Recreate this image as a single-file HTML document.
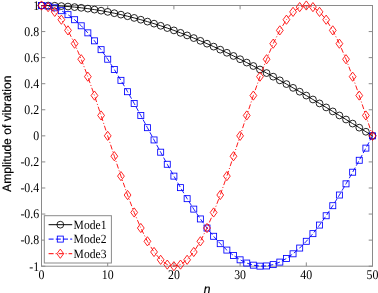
<!DOCTYPE html>
<html><head><meta charset="utf-8"><title>Mode shapes</title>
<style>
html,body{margin:0;padding:0;background:#fff;}
body{width:378px;height:293px;overflow:hidden;}
svg{display:block;}
text{font-family:"Liberation Serif",serif;font-size:13.2px;text-rendering:geometricPrecision;fill:#000;}
.sans{font-family:"Liberation Sans",sans-serif;font-size:12.1px;stroke:#000;stroke-width:0.2px;}
</style></head><body>
<svg width="378" height="293" viewBox="0 0 378 293">
<rect x="0" y="0" width="378" height="293" fill="#fff"/>

<rect x="41.5" y="5.5" width="331.0" height="260.7" fill="none" stroke="#8a8a8a" stroke-width="1"/>
<line x1="41.50" y1="266.2" x2="41.50" y2="262.4" stroke="#8a8a8a"/>
<line x1="41.50" y1="5.5" x2="41.50" y2="9.3" stroke="#8a8a8a"/>
<text transform="translate(41.50,279.4) scale(0.9,1)" text-anchor="middle">0</text>
<line x1="107.70" y1="266.2" x2="107.70" y2="262.4" stroke="#8a8a8a"/>
<line x1="107.70" y1="5.5" x2="107.70" y2="9.3" stroke="#8a8a8a"/>
<text transform="translate(107.70,279.4) scale(0.9,1)" text-anchor="middle">10</text>
<line x1="173.90" y1="266.2" x2="173.90" y2="262.4" stroke="#8a8a8a"/>
<line x1="173.90" y1="5.5" x2="173.90" y2="9.3" stroke="#8a8a8a"/>
<text transform="translate(173.90,279.4) scale(0.9,1)" text-anchor="middle">20</text>
<line x1="240.10" y1="266.2" x2="240.10" y2="262.4" stroke="#8a8a8a"/>
<line x1="240.10" y1="5.5" x2="240.10" y2="9.3" stroke="#8a8a8a"/>
<text transform="translate(240.10,279.4) scale(0.9,1)" text-anchor="middle">30</text>
<line x1="306.30" y1="266.2" x2="306.30" y2="262.4" stroke="#8a8a8a"/>
<line x1="306.30" y1="5.5" x2="306.30" y2="9.3" stroke="#8a8a8a"/>
<text transform="translate(306.30,279.4) scale(0.9,1)" text-anchor="middle">40</text>
<line x1="372.50" y1="266.2" x2="372.50" y2="262.4" stroke="#8a8a8a"/>
<line x1="372.50" y1="5.5" x2="372.50" y2="9.3" stroke="#8a8a8a"/>
<text transform="translate(372.50,279.4) scale(0.9,1)" text-anchor="middle">50</text>
<line x1="41.5" y1="5.50" x2="45.3" y2="5.50" stroke="#8a8a8a"/>
<line x1="372.5" y1="5.50" x2="368.7" y2="5.50" stroke="#8a8a8a"/>
<text transform="translate(39.2,9.80) scale(0.9,1)" text-anchor="end">1</text>
<line x1="41.5" y1="31.57" x2="45.3" y2="31.57" stroke="#8a8a8a"/>
<line x1="372.5" y1="31.57" x2="368.7" y2="31.57" stroke="#8a8a8a"/>
<text transform="translate(39.2,35.87) scale(0.9,1)" text-anchor="end">0.8</text>
<line x1="41.5" y1="57.64" x2="45.3" y2="57.64" stroke="#8a8a8a"/>
<line x1="372.5" y1="57.64" x2="368.7" y2="57.64" stroke="#8a8a8a"/>
<text transform="translate(39.2,61.94) scale(0.9,1)" text-anchor="end">0.6</text>
<line x1="41.5" y1="83.71" x2="45.3" y2="83.71" stroke="#8a8a8a"/>
<line x1="372.5" y1="83.71" x2="368.7" y2="83.71" stroke="#8a8a8a"/>
<text transform="translate(39.2,88.01) scale(0.9,1)" text-anchor="end">0.4</text>
<line x1="41.5" y1="109.78" x2="45.3" y2="109.78" stroke="#8a8a8a"/>
<line x1="372.5" y1="109.78" x2="368.7" y2="109.78" stroke="#8a8a8a"/>
<text transform="translate(39.2,114.08) scale(0.9,1)" text-anchor="end">0.2</text>
<line x1="41.5" y1="135.85" x2="45.3" y2="135.85" stroke="#8a8a8a"/>
<line x1="372.5" y1="135.85" x2="368.7" y2="135.85" stroke="#8a8a8a"/>
<text transform="translate(39.2,140.15) scale(0.9,1)" text-anchor="end">0</text>
<line x1="41.5" y1="161.92" x2="45.3" y2="161.92" stroke="#8a8a8a"/>
<line x1="372.5" y1="161.92" x2="368.7" y2="161.92" stroke="#8a8a8a"/>
<text transform="translate(39.2,166.22) scale(0.9,1)" text-anchor="end">-0.2</text>
<line x1="41.5" y1="187.99" x2="45.3" y2="187.99" stroke="#8a8a8a"/>
<line x1="372.5" y1="187.99" x2="368.7" y2="187.99" stroke="#8a8a8a"/>
<text transform="translate(39.2,192.29) scale(0.9,1)" text-anchor="end">-0.4</text>
<line x1="41.5" y1="214.06" x2="45.3" y2="214.06" stroke="#8a8a8a"/>
<line x1="372.5" y1="214.06" x2="368.7" y2="214.06" stroke="#8a8a8a"/>
<text transform="translate(39.2,218.36) scale(0.9,1)" text-anchor="end">-0.6</text>
<line x1="41.5" y1="240.13" x2="45.3" y2="240.13" stroke="#8a8a8a"/>
<line x1="372.5" y1="240.13" x2="368.7" y2="240.13" stroke="#8a8a8a"/>
<text transform="translate(39.2,244.43) scale(0.9,1)" text-anchor="end">-0.8</text>
<line x1="41.5" y1="266.20" x2="45.3" y2="266.20" stroke="#8a8a8a"/>
<line x1="372.5" y1="266.20" x2="368.7" y2="266.20" stroke="#8a8a8a"/>
<text transform="translate(39.2,270.50) scale(0.9,1)" text-anchor="end">-1</text>
<text class="sans" transform="translate(10.5,133.8) rotate(-90)" text-anchor="middle">Amplitude of vibration</text>
<text class="sans" x="207.0" y="292.7" text-anchor="middle" font-style="italic">n</text>
<path d="M41.50,5.50 L48.12,5.56 L54.74,5.76 L61.36,6.08 L67.98,6.53 L74.60,7.10 L81.22,7.81 L87.84,8.64 L94.46,9.60 L101.08,10.68 L107.70,11.88 L114.32,13.21 L120.94,14.65 L127.56,16.22 L134.18,17.91 L140.80,19.71 L147.42,21.62 L154.04,23.65 L160.66,25.79 L167.28,28.04 L173.90,30.39 L180.52,32.85 L187.14,35.41 L193.76,38.07 L200.38,40.83 L207.00,43.68 L213.62,46.62 L220.24,49.65 L226.86,52.76 L233.48,55.96 L240.10,59.23 L246.72,62.58 L253.34,66.00 L259.96,69.50 L266.58,73.05 L273.20,76.67 L279.82,80.35 L286.44,84.08 L293.06,87.86 L299.68,91.70 L306.30,95.57 L312.92,99.48 L319.54,103.43 L326.16,107.42 L332.78,111.42 L339.40,115.46 L346.02,119.51 L352.64,123.58 L359.26,127.67 L365.88,131.76 L372.50,135.85" fill="none" stroke="#000" stroke-width="0.9"/>
<g fill="none" stroke-width="0.85"><circle cx="41.50" cy="5.50" r="3.4" stroke="#000"/><circle cx="48.12" cy="5.56" r="3.4" stroke="#000"/><circle cx="54.74" cy="5.76" r="3.4" stroke="#000"/><circle cx="61.36" cy="6.08" r="3.4" stroke="#000"/><circle cx="67.98" cy="6.53" r="3.4" stroke="#000"/><circle cx="74.60" cy="7.10" r="3.4" stroke="#000"/><circle cx="81.22" cy="7.81" r="3.4" stroke="#000"/><circle cx="87.84" cy="8.64" r="3.4" stroke="#000"/><circle cx="94.46" cy="9.60" r="3.4" stroke="#000"/><circle cx="101.08" cy="10.68" r="3.4" stroke="#000"/><circle cx="107.70" cy="11.88" r="3.4" stroke="#000"/><circle cx="114.32" cy="13.21" r="3.4" stroke="#000"/><circle cx="120.94" cy="14.65" r="3.4" stroke="#000"/><circle cx="127.56" cy="16.22" r="3.4" stroke="#000"/><circle cx="134.18" cy="17.91" r="3.4" stroke="#000"/><circle cx="140.80" cy="19.71" r="3.4" stroke="#000"/><circle cx="147.42" cy="21.62" r="3.4" stroke="#000"/><circle cx="154.04" cy="23.65" r="3.4" stroke="#000"/><circle cx="160.66" cy="25.79" r="3.4" stroke="#000"/><circle cx="167.28" cy="28.04" r="3.4" stroke="#000"/><circle cx="173.90" cy="30.39" r="3.4" stroke="#000"/><circle cx="180.52" cy="32.85" r="3.4" stroke="#000"/><circle cx="187.14" cy="35.41" r="3.4" stroke="#000"/><circle cx="193.76" cy="38.07" r="3.4" stroke="#000"/><circle cx="200.38" cy="40.83" r="3.4" stroke="#000"/><circle cx="207.00" cy="43.68" r="3.4" stroke="#000"/><circle cx="213.62" cy="46.62" r="3.4" stroke="#000"/><circle cx="220.24" cy="49.65" r="3.4" stroke="#000"/><circle cx="226.86" cy="52.76" r="3.4" stroke="#000"/><circle cx="233.48" cy="55.96" r="3.4" stroke="#000"/><circle cx="240.10" cy="59.23" r="3.4" stroke="#000"/><circle cx="246.72" cy="62.58" r="3.4" stroke="#000"/><circle cx="253.34" cy="66.00" r="3.4" stroke="#000"/><circle cx="259.96" cy="69.50" r="3.4" stroke="#000"/><circle cx="266.58" cy="73.05" r="3.4" stroke="#000"/><circle cx="273.20" cy="76.67" r="3.4" stroke="#000"/><circle cx="279.82" cy="80.35" r="3.4" stroke="#000"/><circle cx="286.44" cy="84.08" r="3.4" stroke="#000"/><circle cx="293.06" cy="87.86" r="3.4" stroke="#000"/><circle cx="299.68" cy="91.70" r="3.4" stroke="#000"/><circle cx="306.30" cy="95.57" r="3.4" stroke="#000"/><circle cx="312.92" cy="99.48" r="3.4" stroke="#000"/><circle cx="319.54" cy="103.43" r="3.4" stroke="#000"/><circle cx="326.16" cy="107.42" r="3.4" stroke="#000"/><circle cx="332.78" cy="111.42" r="3.4" stroke="#000"/><circle cx="339.40" cy="115.46" r="3.4" stroke="#000"/><circle cx="346.02" cy="119.51" r="3.4" stroke="#000"/><circle cx="352.64" cy="123.58" r="3.4" stroke="#000"/><circle cx="359.26" cy="127.67" r="3.4" stroke="#000"/><circle cx="365.88" cy="131.76" r="3.4" stroke="#000"/><circle cx="372.50" cy="135.85" r="3.4" stroke="#000"/></g>
<path d="M41.50,5.50 L48.12,6.08 L54.74,7.81 L61.36,10.68 L67.98,14.65 L74.60,19.71 L81.22,25.79 L87.84,32.85 L94.46,40.83 L101.08,49.65 L107.70,59.23 L114.32,69.50 L120.94,80.35 L127.56,91.70 L134.18,103.43 L140.80,115.46 L147.42,127.67 L154.04,139.94 L160.66,152.19 L167.28,164.28 L173.90,176.13 L180.52,187.62 L187.14,198.65 L193.76,209.12 L200.38,218.94 L207.00,228.02 L213.62,236.29 L220.24,243.66 L226.86,250.08 L233.48,255.48 L240.10,259.82 L246.72,263.06 L253.34,265.17 L259.96,266.14 L266.58,265.94 L273.20,264.60 L279.82,262.10 L286.44,258.49 L293.06,253.79 L299.68,248.05 L306.30,241.31 L312.92,233.63 L319.54,225.08 L326.16,215.74 L332.78,205.70 L339.40,195.03 L346.02,183.84 L352.64,172.22 L359.26,160.28 L365.88,148.12 L372.50,135.85" fill="none" stroke="#00f" stroke-width="0.9" stroke-dasharray="5,2.2"/>
<g fill="none" stroke-width="0.85"><rect x="38.50" y="2.50" width="6" height="6" stroke="#00f"/><rect x="45.12" y="3.08" width="6" height="6" stroke="#00f"/><rect x="51.74" y="4.81" width="6" height="6" stroke="#00f"/><rect x="58.36" y="7.68" width="6" height="6" stroke="#00f"/><rect x="64.98" y="11.65" width="6" height="6" stroke="#00f"/><rect x="71.60" y="16.71" width="6" height="6" stroke="#00f"/><rect x="78.22" y="22.79" width="6" height="6" stroke="#00f"/><rect x="84.84" y="29.85" width="6" height="6" stroke="#00f"/><rect x="91.46" y="37.83" width="6" height="6" stroke="#00f"/><rect x="98.08" y="46.65" width="6" height="6" stroke="#00f"/><rect x="104.70" y="56.23" width="6" height="6" stroke="#00f"/><rect x="111.32" y="66.50" width="6" height="6" stroke="#00f"/><rect x="117.94" y="77.35" width="6" height="6" stroke="#00f"/><rect x="124.56" y="88.70" width="6" height="6" stroke="#00f"/><rect x="131.18" y="100.43" width="6" height="6" stroke="#00f"/><rect x="137.80" y="112.46" width="6" height="6" stroke="#00f"/><rect x="144.42" y="124.67" width="6" height="6" stroke="#00f"/><rect x="151.04" y="136.94" width="6" height="6" stroke="#00f"/><rect x="157.66" y="149.19" width="6" height="6" stroke="#00f"/><rect x="164.28" y="161.28" width="6" height="6" stroke="#00f"/><rect x="170.90" y="173.13" width="6" height="6" stroke="#00f"/><rect x="177.52" y="184.62" width="6" height="6" stroke="#00f"/><rect x="184.14" y="195.65" width="6" height="6" stroke="#00f"/><rect x="190.76" y="206.12" width="6" height="6" stroke="#00f"/><rect x="197.38" y="215.94" width="6" height="6" stroke="#00f"/><rect x="204.00" y="225.02" width="6" height="6" stroke="#00f"/><rect x="210.62" y="233.29" width="6" height="6" stroke="#00f"/><rect x="217.24" y="240.66" width="6" height="6" stroke="#00f"/><rect x="223.86" y="247.08" width="6" height="6" stroke="#00f"/><rect x="230.48" y="252.48" width="6" height="6" stroke="#00f"/><rect x="237.10" y="256.82" width="6" height="6" stroke="#00f"/><rect x="243.72" y="260.06" width="6" height="6" stroke="#00f"/><rect x="250.34" y="262.17" width="6" height="6" stroke="#00f"/><rect x="256.96" y="263.14" width="6" height="6" stroke="#00f"/><rect x="263.58" y="262.94" width="6" height="6" stroke="#00f"/><rect x="270.20" y="261.60" width="6" height="6" stroke="#00f"/><rect x="276.82" y="259.10" width="6" height="6" stroke="#00f"/><rect x="283.44" y="255.49" width="6" height="6" stroke="#00f"/><rect x="290.06" y="250.79" width="6" height="6" stroke="#00f"/><rect x="296.68" y="245.05" width="6" height="6" stroke="#00f"/><rect x="303.30" y="238.31" width="6" height="6" stroke="#00f"/><rect x="309.92" y="230.63" width="6" height="6" stroke="#00f"/><rect x="316.54" y="222.08" width="6" height="6" stroke="#00f"/><rect x="323.16" y="212.74" width="6" height="6" stroke="#00f"/><rect x="329.78" y="202.70" width="6" height="6" stroke="#00f"/><rect x="336.40" y="192.03" width="6" height="6" stroke="#00f"/><rect x="343.02" y="180.84" width="6" height="6" stroke="#00f"/><rect x="349.64" y="169.22" width="6" height="6" stroke="#00f"/><rect x="356.26" y="157.28" width="6" height="6" stroke="#00f"/><rect x="362.88" y="145.12" width="6" height="6" stroke="#00f"/><rect x="369.50" y="132.85" width="6" height="6" stroke="#00f"/></g>
<path d="M41.50,5.50 L48.12,7.10 L54.74,11.88 L61.36,19.71 L67.98,30.39 L74.60,43.68 L81.22,59.23 L87.84,76.67 L94.46,95.57 L101.08,115.46 L107.70,135.85 L114.32,156.24 L120.94,176.13 L127.56,195.03 L134.18,212.47 L140.80,228.02 L147.42,241.31 L154.04,251.99 L160.66,259.82 L167.28,264.60 L173.90,266.20 L180.52,264.60 L187.14,259.82 L193.76,251.99 L200.38,241.31 L207.00,228.02 L213.62,212.47 L220.24,195.03 L226.86,176.13 L233.48,156.24 L240.10,135.85 L246.72,115.46 L253.34,95.57 L259.96,76.67 L266.58,59.23 L273.20,43.68 L279.82,30.39 L286.44,19.71 L293.06,11.88 L299.68,7.10 L306.30,5.50 L312.92,7.10 L319.54,11.88 L326.16,19.71 L332.78,30.39 L339.40,43.68 L346.02,59.23 L352.64,76.67 L359.26,95.57 L365.88,115.46 L372.50,135.85" fill="none" stroke="#f00" stroke-width="0.9" stroke-dasharray="5,2,1,2"/>
<g fill="none" stroke-width="0.85"><path d="M41.50,0.90 L44.90,5.50 L41.50,10.10 L38.10,5.50 Z" stroke="#f00"/><path d="M48.12,2.50 L51.52,7.10 L48.12,11.70 L44.72,7.10 Z" stroke="#f00"/><path d="M54.74,7.28 L58.14,11.88 L54.74,16.48 L51.34,11.88 Z" stroke="#f00"/><path d="M61.36,15.11 L64.76,19.71 L61.36,24.31 L57.96,19.71 Z" stroke="#f00"/><path d="M67.98,25.79 L71.38,30.39 L67.98,34.99 L64.58,30.39 Z" stroke="#f00"/><path d="M74.60,39.08 L78.00,43.68 L74.60,48.28 L71.20,43.68 Z" stroke="#f00"/><path d="M81.22,54.63 L84.62,59.23 L81.22,63.83 L77.82,59.23 Z" stroke="#f00"/><path d="M87.84,72.07 L91.24,76.67 L87.84,81.27 L84.44,76.67 Z" stroke="#f00"/><path d="M94.46,90.97 L97.86,95.57 L94.46,100.17 L91.06,95.57 Z" stroke="#f00"/><path d="M101.08,110.86 L104.48,115.46 L101.08,120.06 L97.68,115.46 Z" stroke="#f00"/><path d="M107.70,131.25 L111.10,135.85 L107.70,140.45 L104.30,135.85 Z" stroke="#f00"/><path d="M114.32,151.64 L117.72,156.24 L114.32,160.84 L110.92,156.24 Z" stroke="#f00"/><path d="M120.94,171.53 L124.34,176.13 L120.94,180.73 L117.54,176.13 Z" stroke="#f00"/><path d="M127.56,190.43 L130.96,195.03 L127.56,199.63 L124.16,195.03 Z" stroke="#f00"/><path d="M134.18,207.87 L137.58,212.47 L134.18,217.07 L130.78,212.47 Z" stroke="#f00"/><path d="M140.80,223.42 L144.20,228.02 L140.80,232.62 L137.40,228.02 Z" stroke="#f00"/><path d="M147.42,236.71 L150.82,241.31 L147.42,245.91 L144.02,241.31 Z" stroke="#f00"/><path d="M154.04,247.39 L157.44,251.99 L154.04,256.59 L150.64,251.99 Z" stroke="#f00"/><path d="M160.66,255.22 L164.06,259.82 L160.66,264.42 L157.26,259.82 Z" stroke="#f00"/><path d="M167.28,260.00 L170.68,264.60 L167.28,269.20 L163.88,264.60 Z" stroke="#f00"/><path d="M173.90,261.60 L177.30,266.20 L173.90,270.80 L170.50,266.20 Z" stroke="#f00"/><path d="M180.52,260.00 L183.92,264.60 L180.52,269.20 L177.12,264.60 Z" stroke="#f00"/><path d="M187.14,255.22 L190.54,259.82 L187.14,264.42 L183.74,259.82 Z" stroke="#f00"/><path d="M193.76,247.39 L197.16,251.99 L193.76,256.59 L190.36,251.99 Z" stroke="#f00"/><path d="M200.38,236.71 L203.78,241.31 L200.38,245.91 L196.98,241.31 Z" stroke="#f00"/><path d="M207.00,223.42 L210.40,228.02 L207.00,232.62 L203.60,228.02 Z" stroke="#f00"/><path d="M213.62,207.87 L217.02,212.47 L213.62,217.07 L210.22,212.47 Z" stroke="#f00"/><path d="M220.24,190.43 L223.64,195.03 L220.24,199.63 L216.84,195.03 Z" stroke="#f00"/><path d="M226.86,171.53 L230.26,176.13 L226.86,180.73 L223.46,176.13 Z" stroke="#f00"/><path d="M233.48,151.64 L236.88,156.24 L233.48,160.84 L230.08,156.24 Z" stroke="#f00"/><path d="M240.10,131.25 L243.50,135.85 L240.10,140.45 L236.70,135.85 Z" stroke="#f00"/><path d="M246.72,110.86 L250.12,115.46 L246.72,120.06 L243.32,115.46 Z" stroke="#f00"/><path d="M253.34,90.97 L256.74,95.57 L253.34,100.17 L249.94,95.57 Z" stroke="#f00"/><path d="M259.96,72.07 L263.36,76.67 L259.96,81.27 L256.56,76.67 Z" stroke="#f00"/><path d="M266.58,54.63 L269.98,59.23 L266.58,63.83 L263.18,59.23 Z" stroke="#f00"/><path d="M273.20,39.08 L276.60,43.68 L273.20,48.28 L269.80,43.68 Z" stroke="#f00"/><path d="M279.82,25.79 L283.22,30.39 L279.82,34.99 L276.42,30.39 Z" stroke="#f00"/><path d="M286.44,15.11 L289.84,19.71 L286.44,24.31 L283.04,19.71 Z" stroke="#f00"/><path d="M293.06,7.28 L296.46,11.88 L293.06,16.48 L289.66,11.88 Z" stroke="#f00"/><path d="M299.68,2.50 L303.08,7.10 L299.68,11.70 L296.28,7.10 Z" stroke="#f00"/><path d="M306.30,0.90 L309.70,5.50 L306.30,10.10 L302.90,5.50 Z" stroke="#f00"/><path d="M312.92,2.50 L316.32,7.10 L312.92,11.70 L309.52,7.10 Z" stroke="#f00"/><path d="M319.54,7.28 L322.94,11.88 L319.54,16.48 L316.14,11.88 Z" stroke="#f00"/><path d="M326.16,15.11 L329.56,19.71 L326.16,24.31 L322.76,19.71 Z" stroke="#f00"/><path d="M332.78,25.79 L336.18,30.39 L332.78,34.99 L329.38,30.39 Z" stroke="#f00"/><path d="M339.40,39.08 L342.80,43.68 L339.40,48.28 L336.00,43.68 Z" stroke="#f00"/><path d="M346.02,54.63 L349.42,59.23 L346.02,63.83 L342.62,59.23 Z" stroke="#f00"/><path d="M352.64,72.07 L356.04,76.67 L352.64,81.27 L349.24,76.67 Z" stroke="#f00"/><path d="M359.26,90.97 L362.66,95.57 L359.26,100.17 L355.86,95.57 Z" stroke="#f00"/><path d="M365.88,110.86 L369.28,115.46 L365.88,120.06 L362.48,115.46 Z" stroke="#f00"/><path d="M372.50,131.25 L375.90,135.85 L372.50,140.45 L369.10,135.85 Z" stroke="#f00"/></g>
<rect x="44.3" y="215.7" width="67.10000000000001" height="47.30000000000001" fill="#fff" stroke="#8a8a8a"/>
<line x1="48.6" y1="224.7" x2="72.2" y2="224.7" stroke="#000"/>
<g fill="none" stroke-width="0.85"><circle cx="60.30" cy="224.70" r="3.4" stroke="#000"/></g>
<text transform="translate(73.6,228.80) scale(0.92,1)" style="font-size:12.6px">Mode1</text>
<line x1="48.6" y1="239.1" x2="72.2" y2="239.1" stroke="#00f" stroke-dasharray="5,2.2"/>
<g fill="none" stroke-width="0.85"><rect x="57.30" y="236.10" width="6" height="6" stroke="#00f"/></g>
<text transform="translate(73.6,243.20) scale(0.92,1)" style="font-size:12.6px">Mode2</text>
<line x1="48.6" y1="253.7" x2="72.2" y2="253.7" stroke="#f00" stroke-dasharray="5,2,1,2"/>
<g fill="none" stroke-width="0.85"><path d="M60.30,249.10 L63.70,253.70 L60.30,258.30 L56.90,253.70 Z" stroke="#f00"/></g>
<text transform="translate(73.6,257.80) scale(0.92,1)" style="font-size:12.6px">Mode3</text>
</svg></body></html>
